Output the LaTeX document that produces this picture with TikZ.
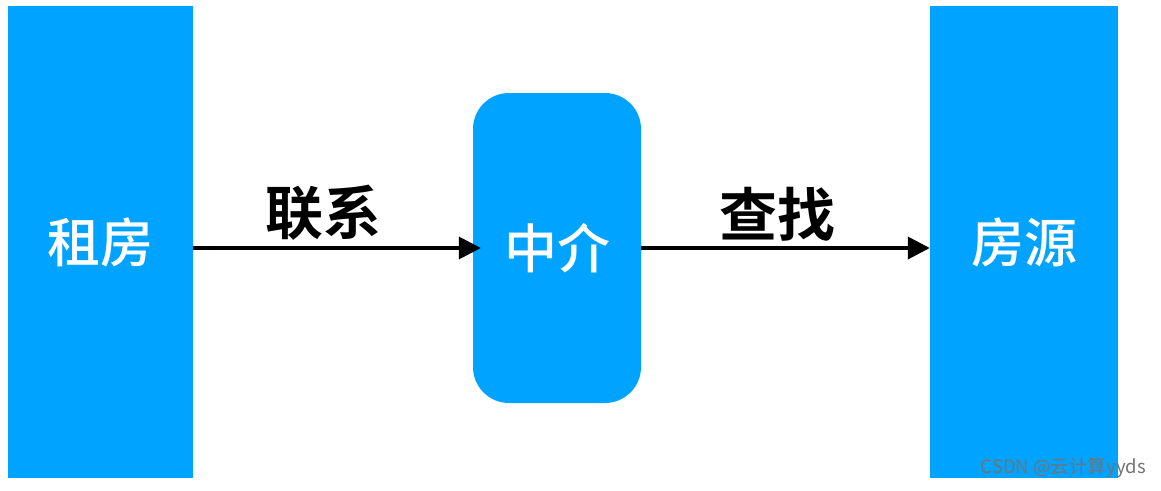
\documentclass[tikz,border=0pt]{standalone}
\usepackage{fontspec}
\newfontfamily\cjk[BoldFont={* Bold}]{Noto Sans CJK SC}
\newfontfamily\cjkmed{Noto Sans CJK SC Medium}
\usetikzlibrary{arrows.meta}
\definecolor{barblue}{RGB}{0,163,255}

\begin{document}
\begin{tikzpicture}[x=1pt, y=-1pt,
		bar/.style={fill=barblue, draw=none, minimum height=472pt, text=white,
			font=\cjkmed\fontsize{53}{55}\selectfont, inner sep=0pt},
		agentbox/.style={bar, minimum width=168pt, minimum height=310pt, rounded corners=36pt},
		flow/.style={line width=3.6pt, -{Triangle[length=22pt, width=22pt]}},
		flowlabel/.style={font=\cjk\bfseries\fontsize{58}{60}\selectfont, text=black}]

		\useasboundingbox (0,0) rectangle (1161,490);

		\node[bar, minimum width=185pt] (rent) at (100.5,242) {租房};
		\node[agentbox] (agent) at (557,248) {中介};
		\node[bar, minimum width=188pt] (house) at (1024,242) {房源};

		\draw[flow, shorten >=-8pt] (rent.east |- agent.west) -- (agent.west)
			node[midway, above=3pt, xshift=-10pt, flowlabel] {联系};
		\draw[flow] (agent.east) -- (house.west |- agent.east)
			node[midway, above=1pt, xshift=-8pt, flowlabel] {查找};

		\node[anchor=south east, inner sep=0pt, text=black!55,
			font=\cjk\fontsize{18.5}{19}\selectfont] (mark) at (1146,478) {CSDN @云计算yyds};

	\end{tikzpicture}
\end{document}
